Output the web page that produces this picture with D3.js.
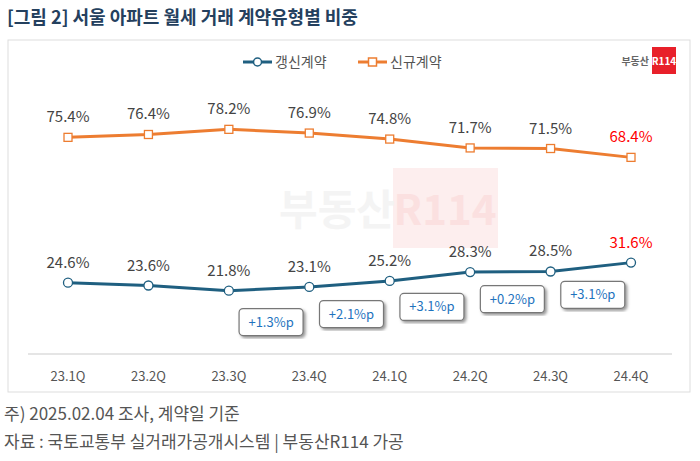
<!DOCTYPE html><html><head><meta charset="utf-8"><script src="https://cdn.jsdelivr.net/npm/d3@7"></script>
<style>body{margin:0;background:#fff}text{font-family:"Noto Sans CJK KR","Noto Sans",sans-serif}</style></head><body><svg id="c" width="700" height="461"></svg><script>
const categories=["23.1Q","23.2Q","23.3Q","23.4Q","24.1Q","24.2Q","24.3Q","24.4Q"];
const renewal=[24.6,23.6,21.8,23.1,25.2,28.3,28.5,31.6];
const newContract=[75.4,76.4,78.2,76.9,74.8,71.7,71.5,68.4];
const changeLabels=["+1.3%p","+2.1%p","+3.1%p","+0.2%p","+3.1%p"];
const changeAt=[2,3,4,5,6];
const boxY=[11,13.8,16.3,19,20.5];
const svg=d3.select("#c");
const x=d3.scalePoint().domain(categories).range([68,631]);
const y=d3.scaleLinear().domain([0,100]).range([353,67]);
svg.append("text").attr("x",7).attr("y",24).attr("font-size",18).attr("font-weight","bold").attr("fill","#24405e").text("[그림 2] 서울 아파트 월세 거래 계약유형별 비중");
svg.append("rect").attr("x",8).attr("y",40).attr("width",682).attr("height",352).attr("fill","#fff").attr("stroke","#ddd");
svg.append("rect").attr("x",393).attr("y",168).attr("width",105).attr("height",80).attr("fill","#fdeeee");
svg.append("text").attr("x",395).attr("y",225).attr("text-anchor","end").attr("font-size",42).attr("font-weight","bold").attr("fill","#f4f4f4").text("부동산");
svg.append("text").attr("x",445).attr("y",225).attr("text-anchor","middle").attr("font-size",42).attr("font-weight","bold").attr("fill","#fbe0e0").text("R114");
svg.append("text").attr("x",649).attr("y",65).attr("text-anchor","end").attr("font-size",10).attr("font-weight","bold").attr("fill","#666").text("부동산");
svg.append("rect").attr("x",652).attr("y",47).attr("width",24).attr("height",27).attr("fill","#e8202a");
svg.append("text").attr("x",664).attr("y",65).attr("text-anchor","middle").attr("font-size",10).attr("font-weight","bold").attr("fill","#fff").text("R114");
const lg=[{n:"갱신계약",c:"#1f5f80",s:"c",x:243},{n:"신규계약",c:"#ed7d31",s:"r",x:358}];
lg.forEach(d=>{const g=svg.append("g");
g.append("line").attr("x1",d.x).attr("x2",d.x+29).attr("y1",62).attr("y2",62).attr("stroke",d.c).attr("stroke-width",3);
if(d.s=="c")g.append("circle").attr("cx",d.x+14.5).attr("cy",62).attr("r",4).attr("fill","#fff").attr("stroke",d.c).attr("stroke-width",1.5);
else g.append("rect").attr("x",d.x+10.5).attr("y",58).attr("width",8).attr("height",8).attr("fill","#fff").attr("stroke",d.c).attr("stroke-width",1.5);
g.append("text").attr("x",d.x+32).attr("y",67).attr("font-size",14).attr("fill","#555").text(d.n);});
svg.append("line").attr("x1",28).attr("x2",672).attr("y1",354).attr("y2",354).attr("stroke","#ddd").attr("stroke-width",1.5);
svg.selectAll(".xl").data(categories).join("text").attr("x",d=>x(d)).attr("y",381).attr("text-anchor","middle").attr("font-size",13).attr("fill","#555").attr("font-family","Arial,Liberation Sans").text(d=>d);
const line=d3.line().x((d,i)=>x(categories[i])).y(d=>y(d));
function series(data,col,shape){
 svg.append("path").attr("d",line(data)).attr("fill","none").attr("stroke",col).attr("stroke-width",3);
 data.forEach((v,i)=>{
  if(shape=="c")svg.append("circle").attr("cx",x(categories[i])).attr("cy",y(v)).attr("r",4.5).attr("fill","#fff").attr("stroke",col).attr("stroke-width",1.3);
  else svg.append("rect").attr("x",x(categories[i])-4).attr("y",y(v)-4).attr("width",8).attr("height",8).attr("fill","#fff").attr("stroke",col).attr("stroke-width",1.3);
  svg.append("text").attr("x",x(categories[i])).attr("y",y(v)-15).attr("text-anchor","middle").attr("font-size",15).attr("font-family","Arial,Liberation Sans").attr("fill",i==7?"#ff0000":"#444").text(v.toFixed(1)+"%");
 });}
series(newContract,"#ed7d31","r");
series(renewal,"#1f5f80","c");
const defs=svg.append("defs");
defs.append("filter").attr("id","sh").append("feDropShadow").attr("dx",2).attr("dy",2).attr("stdDeviation",1.5).attr("flood-color","#999");
changeLabels.forEach((t,k)=>{const cx=(x(categories[changeAt[k]])+x(categories[changeAt[k]+1]))/2+2, cy=y(boxY[k]);
 svg.append("rect").attr("x",cx-32).attr("y",cy-13).attr("width",64).attr("height",27).attr("rx",4).attr("fill","#fff").attr("stroke","#777").attr("stroke-width",1.2).attr("filter","url(#sh)");
 svg.append("text").attr("x",cx).attr("y",cy+5).attr("text-anchor","middle").attr("font-size",13).attr("font-family","Arial,Liberation Sans").attr("fill","#1e73be").text(t);});
svg.append("text").attr("x",4).attr("y",420).attr("font-size",17).attr("fill","#555").text("주) 2025.02.04 조사, 계약일 기준");
svg.append("text").attr("x",4).attr("y",448).attr("font-size",17).attr("fill","#555").text("자료 : 국토교통부 실거래가공개시스템 | 부동산R114 가공");
</script></body></html>
